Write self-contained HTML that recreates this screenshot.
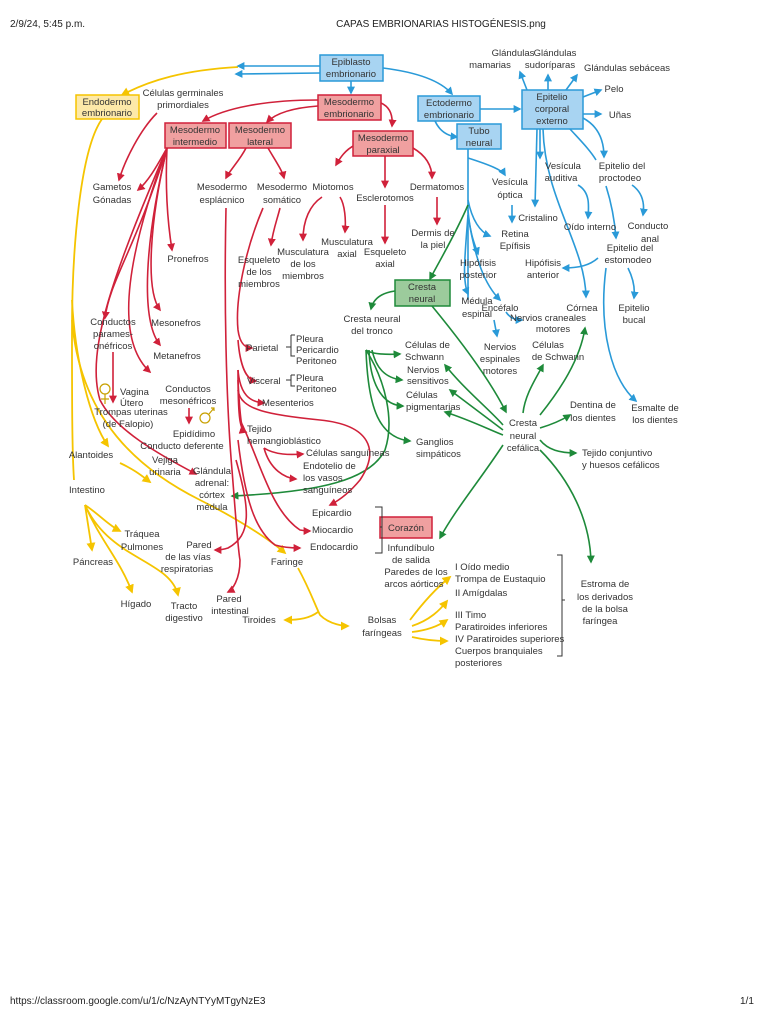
<!DOCTYPE html>
<html><head><meta charset="utf-8"><style>
html,body{margin:0;padding:0;background:#fff;}
svg{display:block;}
text{font-family:"Liberation Sans",sans-serif;font-size:9.5px;fill:#333;}
.h{font-size:10px;fill:#222;}
.b{stroke-width:1.3;}
</style></head><body>
<svg width="768" height="1024" viewBox="0 0 768 1024" xmlns="http://www.w3.org/2000/svg">
<defs>
<marker id="ab" viewBox="0 0 10 10" refX="8" refY="5" markerWidth="5" markerHeight="5" orient="auto"><path d="M0,0L10,5L0,10z" fill="#2a9ad8"/></marker>
<marker id="ar" viewBox="0 0 10 10" refX="8" refY="5" markerWidth="5" markerHeight="5" orient="auto"><path d="M0,0L10,5L0,10z" fill="#d0213a"/></marker>
<marker id="ag" viewBox="0 0 10 10" refX="8" refY="5" markerWidth="5" markerHeight="5" orient="auto"><path d="M0,0L10,5L0,10z" fill="#1e8a3a"/></marker>
<marker id="ay" viewBox="0 0 10 10" refX="8" refY="5" markerWidth="5" markerHeight="5" orient="auto"><path d="M0,0L10,5L0,10z" fill="#f5c400"/></marker>
</defs>

<text class="h" x="10" y="27">2/9/24, 5:45 p.m.</text>
<text class="h" x="441" y="27" text-anchor="middle">CAPAS EMBRIONARIAS HISTOGÉNESIS.png</text>
<text class="h" x="10" y="1004">https://classroom.google.com/u/1/c/NzAyNTYyMTgyNzE3</text>
<text class="h" x="740" y="1004">1/1</text>

<!-- YELLOW -->
<g fill="none" stroke="#f5c400" stroke-width="1.8">
<path d="M238,67 C185,70 150,80 122,95" marker-end="url(#ay)"/>
<path d="M102,119 C80,150 72,250 72,330 C72,400 72,450 74,480" />
<path d="M72,300 C75,360 90,420 108,446" marker-end="url(#ay)"/>
<path d="M120,463 C135,470 142,476 150,482" marker-end="url(#ay)"/>
<path d="M72,320 C80,420 140,470 200,500 C240,520 270,540 285,553" marker-end="url(#ay)"/>
<path d="M85,505 L92,550" marker-end="url(#ay)"/>
<path d="M85,505 C100,515 108,525 120,531" marker-end="url(#ay)"/>
<path d="M85,505 C100,540 120,560 132,592" marker-end="url(#ay)"/>
<path d="M85,505 C110,560 170,560 178,595" marker-end="url(#ay)"/>
<path d="M298,568 C310,590 315,605 320,615 C330,625 345,626 348,626" marker-end="url(#ay)"/>
<path d="M318,612 C310,618 300,620 285,620" marker-end="url(#ay)"/>
<path d="M410,620 C425,600 440,585 450,577" marker-end="url(#ay)"/>
<path d="M412,626 C430,620 440,610 447,601" marker-end="url(#ay)"/>
<path d="M412,632 C430,630 440,625 447,620" marker-end="url(#ay)"/>
<path d="M412,637 C425,640 435,641 447,641" marker-end="url(#ay)"/>
</g>
<g fill="none" stroke="#c8a000" stroke-width="1.2">
<circle cx="105" cy="389" r="5"/><path d="M105,394V404M101,399H109"/>
<circle cx="205" cy="418" r="5"/><path d="M209,414L214,408M211,408H214V411"/>
</g>

<!-- BLUE -->
<g fill="none" stroke="#2a9ad8" stroke-width="1.6">
<path d="M320,66 L238,66" marker-end="url(#ab)"/>
<path d="M320,73 L236,74" marker-end="url(#ab)"/>
<path d="M351,81 L351,93" marker-end="url(#ab)"/>
<path d="M383,68 C415,72 440,80 452,94" marker-end="url(#ab)"/>
<path d="M480,109 L520,109" marker-end="url(#ab)"/>
<path d="M435,121 C440,132 448,136 457,137" marker-end="url(#ab)"/>
<path d="M527,90 L520,72" marker-end="url(#ab)"/>
<path d="M548,90 L548,75" marker-end="url(#ab)"/>
<path d="M566,90 L577,75" marker-end="url(#ab)"/>
<path d="M583,97 L601,90" marker-end="url(#ab)"/>
<path d="M583,114 L601,114" marker-end="url(#ab)"/>
<path d="M540,129 L540,158" marker-end="url(#ab)"/>
<path d="M583,118 C598,126 604,140 604,157" marker-end="url(#ab)"/>
<path d="M570,129 C580,140 590,150 596,160"/>
<path d="M537,129 L535,206" marker-end="url(#ab)"/>
<path d="M543,129 C545,200 585,245 586,297" marker-end="url(#ab)"/>
<path d="M578,185 C590,192 589,205 588,218" marker-end="url(#ab)"/>
<path d="M632,185 C642,192 645,202 643,215" marker-end="url(#ab)"/>
<path d="M606,186 C612,205 615,225 616,238" marker-end="url(#ab)"/>
<path d="M598,258 C590,265 580,268 563,268" marker-end="url(#ab)"/>
<path d="M628,268 C634,280 635,290 634,298" marker-end="url(#ab)"/>
<path d="M606,268 C598,330 612,380 636,401" marker-end="url(#ab)"/>
<path d="M468,149 L468,300" />
<path d="M468,158 C490,165 502,170 505,175" marker-end="url(#ab)"/>
<path d="M512,205 L512,222" marker-end="url(#ab)"/>
<path d="M468,200 C472,220 480,232 490,236" marker-end="url(#ab)"/>
<path d="M468,210 C470,235 475,245 478,254" marker-end="url(#ab)"/>
<path d="M468,215 C465,255 462,280 468,294" marker-end="url(#ab)"/>
<path d="M468,215 C475,260 485,285 500,300" marker-end="url(#ab)"/>
<path d="M494,320 L497,336" marker-end="url(#ab)"/>
<path d="M506,312 C510,318 515,320 522,320" marker-end="url(#ab)"/>
</g>

<!-- GREEN -->
<g fill="none" stroke="#1e8a3a" stroke-width="1.6">
<path d="M468,205 C455,235 440,260 430,279" marker-end="url(#ag)"/>
<path d="M395,291 C380,293 373,300 371,309" marker-end="url(#ag)"/>
<path d="M432,306 C460,340 490,380 506,412" marker-end="url(#ag)"/>
<path d="M366,350 C370,353 380,355 400,354" marker-end="url(#ag)"/>
<path d="M372,350 C376,368 385,378 402,380" marker-end="url(#ag)"/>
<path d="M369,350 C370,380 380,405 403,406" marker-end="url(#ag)"/>
<path d="M366,350 C368,410 380,438 410,441" marker-end="url(#ag)"/>
<path d="M366,350 C385,380 395,420 385,450 C370,480 320,492 232,496" marker-end="url(#ag)"/>
<path d="M503,425 C490,410 465,390 445,365" marker-end="url(#ag)"/>
<path d="M503,430 C490,420 470,405 450,390" marker-end="url(#ag)"/>
<path d="M503,435 C490,430 470,420 445,412" marker-end="url(#ag)"/>
<path d="M523,413 C525,395 535,380 543,365" marker-end="url(#ag)"/>
<path d="M540,415 C560,390 580,360 585,328" marker-end="url(#ag)"/>
<path d="M540,428 C550,425 562,420 570,415" marker-end="url(#ag)"/>
<path d="M540,440 C548,450 560,453 576,453" marker-end="url(#ag)"/>
<path d="M540,450 C570,480 590,520 591,562" marker-end="url(#ag)"/>
<path d="M503,445 C480,480 455,510 440,538" marker-end="url(#ag)"/>
</g>

<!-- RED -->
<g fill="none" stroke="#d0213a" stroke-width="1.6">
<path d="M318,100 C265,100 225,108 203,121" marker-end="url(#ar)"/>
<path d="M318,106 C290,108 275,114 267,122" marker-end="url(#ar)"/>
<path d="M381,103 C390,107 393,115 392,126" marker-end="url(#ar)"/>
<path d="M157,113 C140,130 125,160 119,180" marker-end="url(#ar)"/>
<path d="M167,148 C160,160 150,180 138,190" marker-end="url(#ar)"/>
<path d="M167,148 C165,190 168,225 172,250" marker-end="url(#ar)"/>
<path d="M167,148 C150,220 145,290 160,310" marker-end="url(#ar)"/>
<path d="M167,148 C145,240 140,320 160,345" marker-end="url(#ar)"/>
<path d="M167,148 C135,250 110,280 105,318" marker-end="url(#ar)"/>
<path d="M167,148 C125,260 115,340 150,372" marker-end="url(#ar)"/>
<path d="M167,148 C115,270 85,350 100,400 C115,430 160,455 196,474" marker-end="url(#ar)"/>
<path d="M113,352 L113,402" marker-end="url(#ar)"/>
<path d="M189,408 L189,423" marker-end="url(#ar)"/>
<path d="M246,148 C240,160 230,170 226,178" marker-end="url(#ar)"/>
<path d="M268,148 C275,160 282,170 284,178" marker-end="url(#ar)"/>
<path d="M355,145 C345,150 340,158 336,165" marker-end="url(#ar)"/>
<path d="M385,156 L385,187" marker-end="url(#ar)"/>
<path d="M413,148 C425,155 432,165 432,178" marker-end="url(#ar)"/>
<path d="M322,197 C310,205 303,220 303,240" marker-end="url(#ar)"/>
<path d="M340,197 C345,205 346,220 345,232" marker-end="url(#ar)"/>
<path d="M385,205 L385,243" marker-end="url(#ar)"/>
<path d="M437,197 L437,224" marker-end="url(#ar)"/>
<path d="M280,208 C277,220 273,230 271,245" marker-end="url(#ar)"/>
<path d="M226,208 C224,300 226,400 232,470 C236,520 238,550 240,560 C240,580 232,590 228,592" marker-end="url(#ar)"/>
<path d="M263,208 C245,250 235,300 238,330 C240,345 246,348 252,348" marker-end="url(#ar)"/>
<path d="M238,340 C240,365 246,380 256,381" marker-end="url(#ar)"/>
<path d="M238,370 C240,395 250,402 264,403" marker-end="url(#ar)"/>
<path d="M238,380 C240,420 242,430 244,432" />
<path d="M238,370 C238,420 240,430 246,432" marker-end="url(#ar)"/>
<path d="M238,390 C240,410 270,415 320,420 C370,425 380,450 360,480 C350,492 340,500 330,505" marker-end="url(#ar)"/>
<path d="M264,448 C275,455 290,455 303,454" marker-end="url(#ar)"/>
<path d="M264,448 C270,470 285,478 296,479" marker-end="url(#ar)"/>
<path d="M240,420 C260,460 270,510 300,530 C305,531 308,531 310,531" marker-end="url(#ar)"/>
<path d="M238,440 C245,500 255,530 275,545 C285,548 295,548 300,548" marker-end="url(#ar)"/>
<path d="M236,460 C250,510 252,535 228,548 C222,550 218,550 215,550" marker-end="url(#ar)"/>
</g>

<!-- Boxes -->
<g stroke-width="1.5">
<rect x="320" y="55" width="63" height="26" fill="#a8d4f2" stroke="#2a9ad8"/>
<rect x="76" y="95" width="63" height="24" fill="#fde9a8" stroke="#f5c400"/>
<rect x="318" y="95" width="63" height="25" fill="#f0a0a0" stroke="#d0213a"/>
<rect x="165" y="123" width="61" height="25" fill="#f0a0a0" stroke="#d0213a"/>
<rect x="229" y="123" width="62" height="25" fill="#f0a0a0" stroke="#d0213a"/>
<rect x="353" y="131" width="60" height="25" fill="#f0a0a0" stroke="#d0213a"/>
<rect x="418" y="96" width="62" height="25" fill="#a8d4f2" stroke="#2a9ad8"/>
<rect x="457" y="124" width="44" height="25" fill="#a8d4f2" stroke="#2a9ad8"/>
<rect x="522" y="90" width="61" height="39" fill="#a8d4f2" stroke="#2a9ad8"/>
<rect x="395" y="280" width="55" height="26" fill="#9ccb9c" stroke="#1e8a3a"/>
<rect x="380" y="517" width="52" height="21" fill="#f0a0a0" stroke="#d0213a"/>
</g>
<g fill="none" stroke="#333" stroke-width="1">
<path d="M291,335V356H295M291,335H295M286,347H291"/>
<path d="M291,375V386H295M291,375H295M286,380H291"/>
<path d="M375,507H382V553H375M382,527H380"/>
<path d="M557,555H562V656H557M562,600H565"/>
</g>

<g text-anchor="middle">
<text x="351" y="65">Epiblasto</text><text x="351" y="77">embrionario</text>
<text x="107" y="105">Endodermo</text><text x="107" y="116">embrionario</text>
<text x="349" y="105">Mesodermo</text><text x="349" y="117">embrionario</text>
<text x="195" y="133">Mesodermo</text><text x="195" y="145">intermedio</text>
<text x="260" y="133">Mesodermo</text><text x="260" y="145">lateral</text>
<text x="383" y="141">Mesodermo</text><text x="383" y="153">paraxial</text>
<text x="449" y="106">Ectodermo</text><text x="449" y="118">embrionario</text>
<text x="479" y="134">Tubo</text><text x="479" y="146">neural</text>
<text x="552" y="100">Epitelio</text><text x="552" y="112">corporal</text><text x="552" y="124">externo</text>
<text x="422" y="290">Cresta</text><text x="422" y="302">neural</text>
<text x="406" y="531">Corazón</text>

<text x="183" y="96">Células germinales</text><text x="183" y="108">primordiales</text>
<text x="112" y="190">Gametos</text><text x="112" y="203">Gónadas</text>
<text x="222" y="190">Mesodermo</text><text x="222" y="203">esplácnico</text>
<text x="282" y="190">Mesodermo</text><text x="282" y="203">somático</text>
<text x="333" y="190">Miotomos</text>
<text x="385" y="201">Esclerotomos</text>
<text x="437" y="190">Dermatomos</text>
<text x="433" y="236">Dermis de</text><text x="433" y="248">la piel</text>
<text x="385" y="255">Esqueleto</text><text x="385" y="267">axial</text>
<text x="347" y="245">Musculatura</text><text x="347" y="257">axial</text>
<text x="303" y="255">Musculatura</text><text x="303" y="267">de los</text><text x="303" y="279">miembros</text>
<text x="259" y="263">Esqueleto</text><text x="259" y="275">de los</text><text x="259" y="287">miembros</text>
<text x="188" y="262">Pronefros</text>
<text x="113" y="325">Conductos</text><text x="113" y="337">parames-</text><text x="113" y="349">onéfricos</text>
<text x="176" y="326">Mesonefros</text>
<text x="177" y="359">Metanefros</text>
<text x="188" y="392">Conductos</text><text x="188" y="404">mesonéfricos</text>
<text x="194" y="437">Epidídimo</text><text x="182" y="449">Conducto deferente</text>
<text x="131" y="415">Trompas uterinas</text><text x="128" y="427">(de Falopio)</text>
<text x="91" y="458">Alantoides</text>
<text x="165" y="463">Vejiga</text><text x="165" y="475">urinaria</text>
<text x="212" y="474">Glándula</text><text x="212" y="486">adrenal:</text><text x="212" y="498">córtex</text><text x="212" y="510">médula</text>
<text x="87" y="493">Intestino</text>
<text x="142" y="537">Tráquea</text><text x="142" y="550">Pulmones</text>
<text x="93" y="565">Páncreas</text>
<text x="136" y="607">Hígado</text>
<text x="184" y="609">Tracto</text><text x="184" y="621">digestivo</text>
<text x="199" y="548">Pared</text><text x="188" y="560">de las vías</text><text x="187" y="572">respiratorias</text>
<text x="229" y="602">Pared</text><text x="230" y="614">intestinal</text>
<text x="287" y="565">Faringe</text>
<text x="259" y="623">Tiroides</text>
<text x="382" y="623">Bolsas</text><text x="382" y="636">faríngeas</text>
<text x="411" y="551">Infundíbulo</text><text x="411" y="563">de salida</text>
<text x="416" y="575">Paredes de los</text><text x="414" y="587">arcos aórticos</text>
<text x="372" y="322">Cresta neural</text><text x="372" y="334">del tronco</text>
<text x="523" y="426">Cresta</text><text x="523" y="439">neural</text><text x="523" y="451">cefálica</text>
<text x="593" y="408">Dentina de</text><text x="593" y="421">los dientes</text>
<text x="655" y="411">Esmalte de</text><text x="655" y="423">los dientes</text>
<text x="605" y="587">Estroma de</text><text x="605" y="600">los derivados</text><text x="605" y="612">de la bolsa</text><text x="600" y="624">faríngea</text>
<text x="477" y="304">Médula</text><text x="477" y="317">espinal</text>
<text x="500" y="311">Encéfalo</text>
<text x="548" y="321">Nervios craneales</text><text x="553" y="332">motores</text>
<text x="500" y="350">Nervios</text><text x="500" y="362">espinales</text><text x="500" y="374">motores</text>
<text x="548" y="348">Células</text><text x="558" y="360">de Schwann</text>
<text x="582" y="311">Córnea</text>
<text x="634" y="311">Epitelio</text><text x="634" y="323">bucal</text>
<text x="510" y="185">Vesícula</text><text x="510" y="198">óptica</text>
<text x="538" y="221">Cristalino</text>
<text x="515" y="237">Retina</text><text x="515" y="249">Epífisis</text>
<text x="478" y="266">Hipófisis</text><text x="478" y="278">posterior</text>
<text x="543" y="266">Hipófisis</text><text x="543" y="278">anterior</text>
<text x="563" y="169">Vesícula</text><text x="561" y="181">auditiva</text>
<text x="622" y="169">Epitelio del</text><text x="620" y="181">proctodeo</text>
<text x="590" y="230">Oído interno</text>
<text x="648" y="229">Conducto</text><text x="650" y="242">anal</text>
<text x="630" y="251">Epitelio del</text><text x="628" y="263">estomodeo</text>
<text x="513" y="56">Glándulas</text><text x="490" y="68">mamarias</text>
<text x="555" y="56">Glándulas</text><text x="550" y="68">sudoríparas</text>
<text x="627" y="71">Glándulas sebáceas</text>
<text x="614" y="92">Pelo</text>
<text x="620" y="118">Uñas</text>
</g>
<g>
<text x="120" y="395">Vagina</text><text x="120" y="406">Útero</text>
<text x="246" y="351">Parietal</text>
<text x="296" y="342">Pleura</text><text x="296" y="353">Pericardio</text><text x="296" y="364">Peritoneo</text>
<text x="247" y="384">Visceral</text>
<text x="296" y="381">Pleura</text><text x="296" y="392">Peritoneo</text>
<text x="262" y="406">Mesenterios</text>
<text x="247" y="432">Tejido</text><text x="247" y="444">hemangioblástico</text>
<text x="306" y="456">Células sanguíneas</text>
<text x="303" y="469">Endotelio de</text><text x="303" y="481">los vasos</text><text x="303" y="493">sanguíneos</text>
<text x="312" y="516">Epicardio</text>
<text x="312" y="533">Miocardio</text>
<text x="310" y="550">Endocardio</text>
<text x="405" y="348">Células de</text><text x="405" y="360">Schwann</text>
<text x="407" y="373">Nervios</text><text x="407" y="384">sensitivos</text>
<text x="406" y="398">Células</text><text x="406" y="410">pigmentarias</text>
<text x="416" y="445">Ganglios</text><text x="416" y="457">simpáticos</text>
<text x="582" y="456">Tejido conjuntivo</text><text x="582" y="468">y huesos cefálicos</text>
<text x="455" y="570">I Oído medio</text>
<text x="455" y="582">Trompa de Eustaquio</text>
<text x="455" y="596">II Amígdalas</text>
<text x="455" y="618">III Timo</text>
<text x="455" y="630">Paratiroides inferiores</text>
<text x="455" y="642">IV Paratiroides superiores</text>
<text x="455" y="654">Cuerpos branquiales</text>
<text x="455" y="666">posteriores</text>
</g>
</svg>
</body></html>
